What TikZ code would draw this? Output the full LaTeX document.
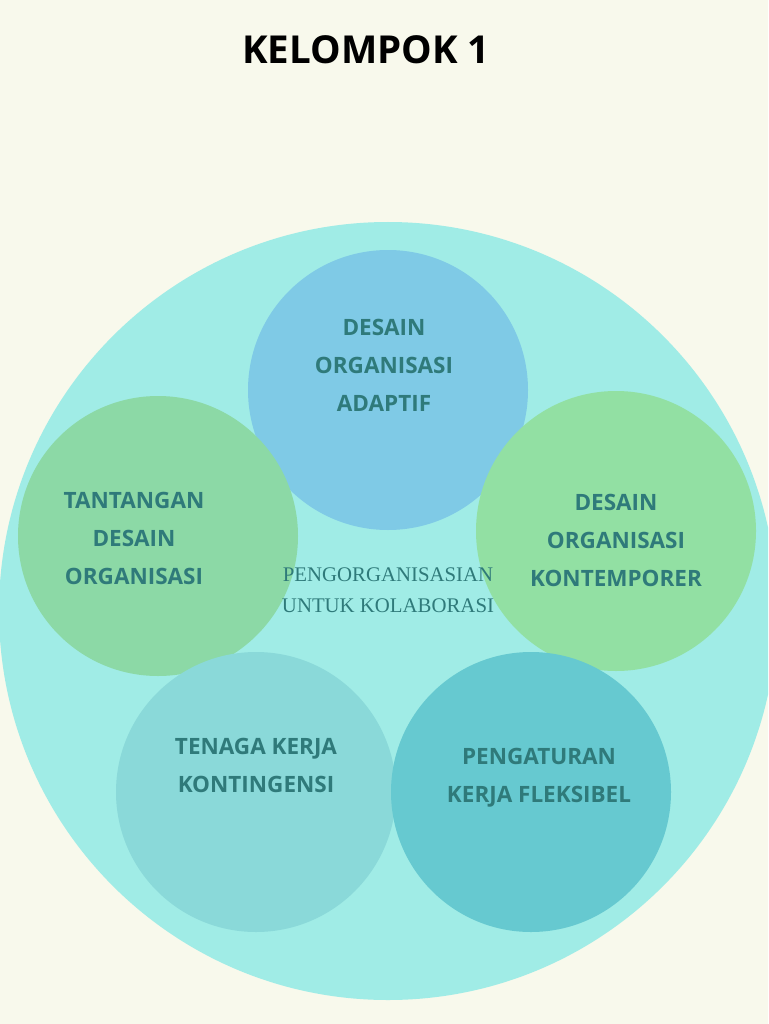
\documentclass[tikz,border=0pt]{standalone}
\usepackage{fontspec}
\setmainfont{Liberation Serif}
\newfontfamily\kopf{Open Sans}
\usepackage{xcolor}
\usepackage{tikz}
\usetikzlibrary{positioning}
\definecolor{hgrund}{HTML}{F8F9EC}
\definecolor{grosskreis}{HTML}{A0ECE6}
\definecolor{blaukreis}{HTML}{7FCAE6}
\definecolor{gruenL}{HTML}{8CD9A6}
\definecolor{gruenR}{HTML}{92E0A3}
\definecolor{tuerkisL}{HTML}{8AD9D9}
\definecolor{tuerkisR}{HTML}{66C9D0}
\definecolor{schrift}{HTML}{2F7A7A}
\tikzset{
  Kreis/.style={circle,inner sep=0pt,minimum size=280pt,fill=#1}, % für die kleinen Kreise
  Etikett/.style={text=schrift,align=center,inner sep=0pt,
    font={\kopf\bfseries\fontsize{22.5}{38}\selectfont}}, % für die Kreistexte
  Mitte/.style={text=schrift,align=center,inner sep=0pt,
    font={\fontsize{20.8}{31}\selectfont}} % für den Mitteltext
}
\begin{document}
\begin{tikzpicture}[x=1pt,y=-1pt]
\useasboundingbox (0,0) rectangle (768,1024);
\fill[hgrund] (0,0) rectangle (768,1024);
\clip (0,0) rectangle (768,1024);

%Titel
\node[font={\kopf\bfseries\fontsize{38.5}{44}\selectfont}, inner sep=0pt] (Titel) at (366,50) {KELOMPOK 1};

%Kreise
\node[circle, inner sep=0pt, minimum size=778pt, fill=grosskreis] (Gross) at (388,611) {};
\node[Kreis=blaukreis] (Oben) at (388,390) {};
\node[Kreis=gruenL] (Links) at (158,536) {};
\node[Kreis=gruenR] (Rechts) at (616,531) {};
\node[Kreis=tuerkisL] (UntenL) at (256,792) {};
\node[Kreis=tuerkisR] (UntenR) at (531,792) {};

%Beschriftungen
\node[Etikett] (TxtOben) at ([shift={(-4,-25)}]Oben.center) {DESAIN\\ORGANISASI\\ADAPTIF};
\node[Etikett] (TxtLinks) at ([shift={(-24,2)}]Links.center) {TANTANGAN\\DESAIN\\ORGANISASI};
\node[Etikett] (TxtRechts) at ([shift={(0,9)}]Rechts.center) {DESAIN\\ORGANISASI\\KONTEMPORER};
\node[Etikett] (TxtUntenL) at ([shift={(0,-27)}]UntenL.center) {TENAGA KERJA\\KONTINGENSI};
\node[Etikett] (TxtUntenR) at ([shift={(8,-14)}]UntenR.center) {PENGATURAN\\KERJA FLEKSIBEL};
\node[Mitte] (TxtMitte) at (388,590) {PENGORGANISASIAN\\UNTUK KOLABORASI};
\end{tikzpicture}
\end{document}
